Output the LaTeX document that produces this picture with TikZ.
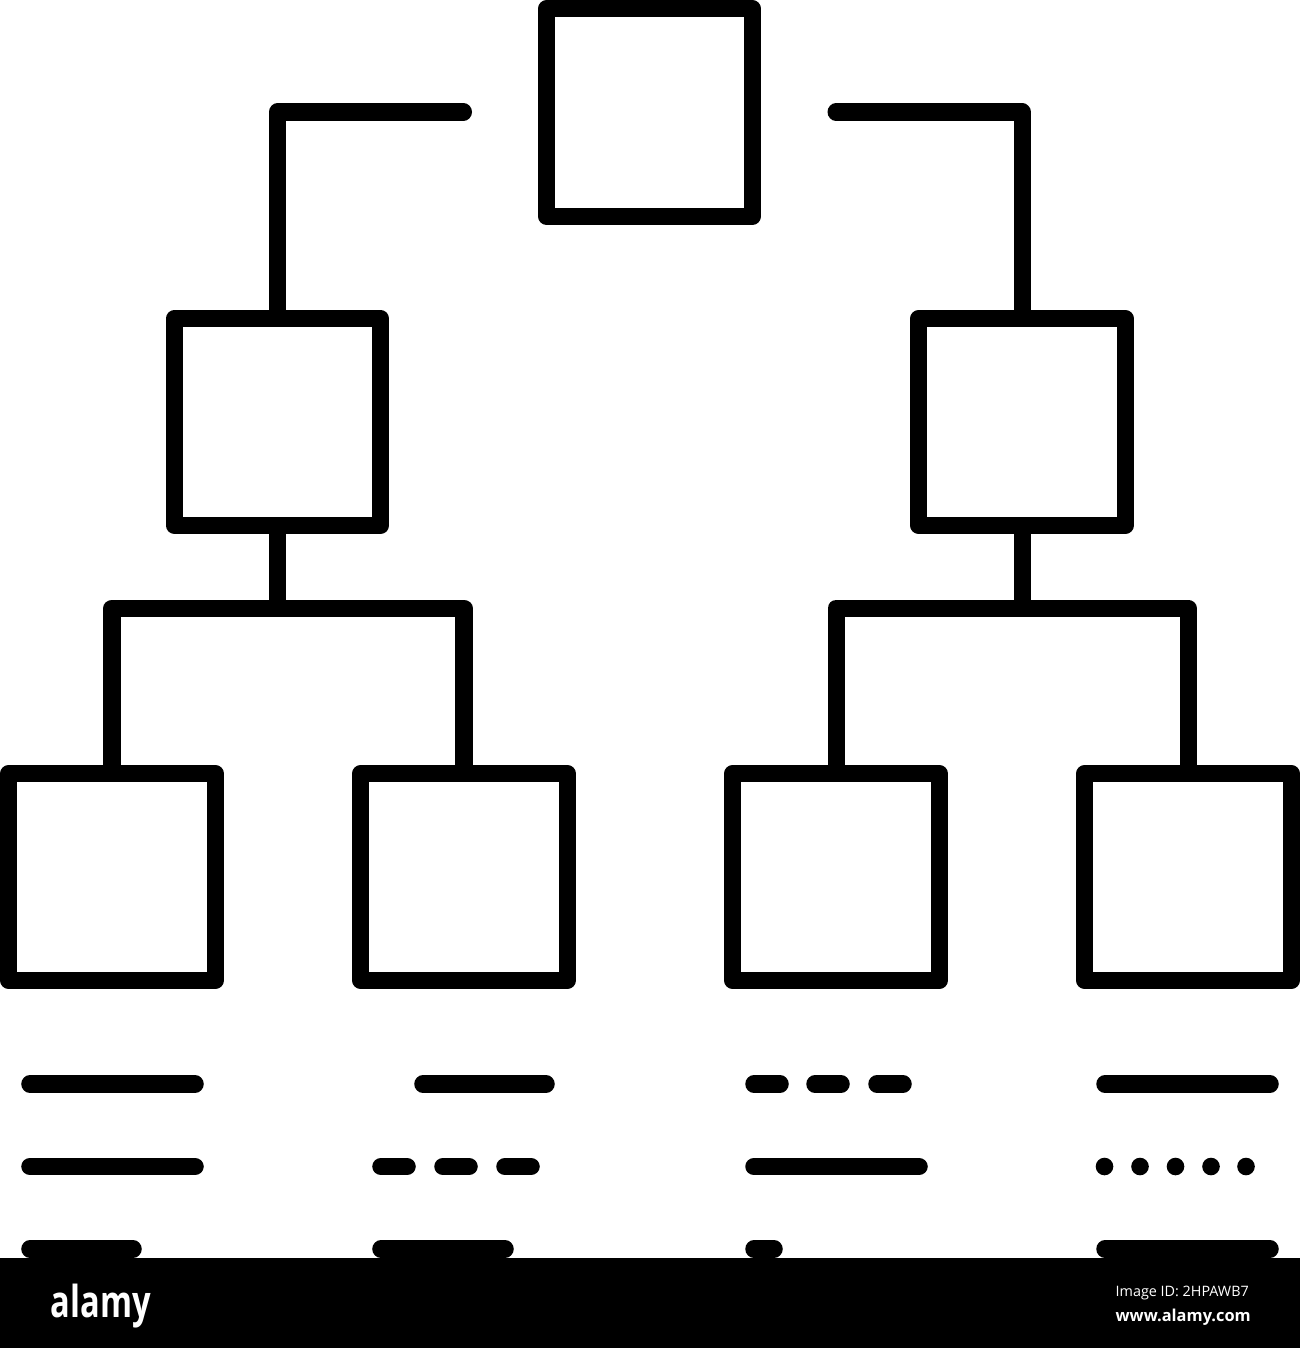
\documentclass[tikz,border=0pt]{standalone}
\usepackage{fontspec}
\setmainfont{Open Sans}
\usetikzlibrary{positioning}
\tikzset{box/.style={draw,line width=0.17cm,line join=round,minimum width=2.06cm,minimum height=2.07cm,inner sep=0pt,outer sep=0pt}}
\tikzstyle{link} = [line width=0.17cm,line cap=round,line join=round]
\tikzstyle{txt} = [line width=0.175cm,line cap=round]
\tikzstyle{tag} = [anchor=north west,inner sep=0pt,text=white]

\begin{document}
\begin{tikzpicture}[x=0.01cm,y=-0.01cm]
\useasboundingbox (0,0) rectangle (1300,1348);

% boxes of the tree
\node[box] (root) at (649.5,112.5) {};
\node[box] (midL) at (277.5,422) {};
\node[box] (midR) at (1022,422) {};
\node[box] (leafA) at (112,877) {};
\node[box] (leafB) at (464,877) {};
\node[box] (leafC) at (836,877) {};
\node[box] (leafD) at (1188,877) {};

% links from the top
\coordinate (rootL) at (463.5,112);
\coordinate (rootR) at (836,112);
\draw[link] (rootL) -| (midL.north);
\draw[link] (rootR) -| (midR.north);

% forks
\coordinate (forkL) at (277.5,608);
\coordinate (forkR) at (1022,608);
\draw[link] (midL.south) -- (forkL);
\draw[link] (leafA.north) -- (leafA.north |- forkL) -- (leafB.north |- forkL) -- (leafB.north);
\draw[link] (midR.south) -- (forkR);
\draw[link] (leafC.north) -- (leafC.north |- forkR) -- (leafD.north |- forkR) -- (leafD.north);

% text lines under the leaves
\draw[txt] (30,1084) -- (195,1084);
\draw[txt] (30,1166.5) -- (195,1166.5);
\draw[txt] (30,1249) -- (133,1249);

\draw[txt] (423,1084) -- (546,1084);
\draw[txt] (381,1166.5) -- (407,1166.5);
\draw[txt] (443,1166.5) -- (469,1166.5);
\draw[txt] (505,1166.5) -- (531,1166.5);
\draw[txt] (381,1249) -- (505,1249);

\draw[txt] (754,1084) -- (780,1084);
\draw[txt] (815,1084) -- (841,1084);
\draw[txt] (877,1084) -- (903,1084);
\draw[txt] (754,1166.5) -- (919,1166.5);
\draw[txt] (754,1249) -- (774,1249);

\draw[txt] (1105,1084) -- (1270,1084);
\foreach \x in {1104.5,1140,1175.5,1211,1246}
  \fill (\x,1166.5) circle[radius=0.088cm];
\draw[txt] (1105,1249) -- (1270,1249);

% bottom bar
\fill (0,1258) rectangle (1300,1348);
\node[tag] (logo) at (50,1283) {\resizebox*{1.0cm}{0.44cm}{\bfseries alamy}};
\node[tag] (imgid) at (1115,1285) {\resizebox{1.33cm}{!}{Image ID: 2HPAWB7}};
\node[tag] (site) at (1115,1308) {\resizebox{1.35cm}{!}{\bfseries www.alamy.com}};
\end{tikzpicture}
\end{document}
